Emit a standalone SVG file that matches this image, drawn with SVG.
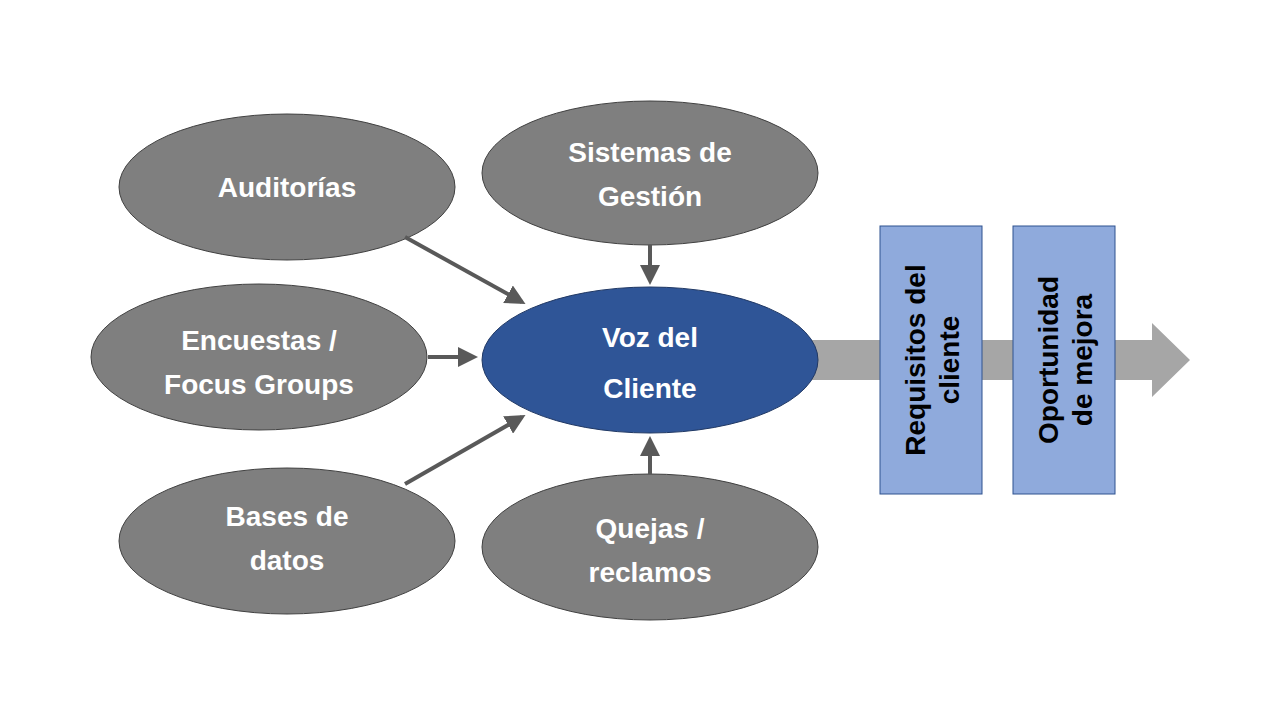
<svg xmlns="http://www.w3.org/2000/svg" width="1280" height="720" viewBox="0 0 1280 720">
<style>
.src{fill:#7f7f7f;stroke:#404040;stroke-width:1}
.t{font-family:"Liberation Sans",Arial,sans-serif;font-weight:bold;fill:#fff;font-size:28px;text-anchor:middle}
.vt{font-family:"Liberation Sans",Arial,sans-serif;font-weight:bold;fill:#000;font-size:28px;text-anchor:middle}
.box{fill:#8faadc;stroke:#2f528f;stroke-width:1}
.c{stroke:#595959;stroke-width:4;fill:none;marker-end:url(#ah)}
</style>
<defs>
<marker id="ah" markerWidth="5" markerHeight="5" refX="4" refY="2.5" orient="auto" markerUnits="strokeWidth"><path d="M0,0L5,2.5L0,5z" fill="#595959"/></marker>
</defs>
<rect width="1280" height="720" fill="#fff"/>
<g id="bigarrow"><path d="M800,340H1152V323L1190,360L1152,397V380H800z" fill="#a6a6a6"/></g>
<g id="auditorias"><ellipse class="src" cx="287" cy="187" rx="168" ry="73"/><text class="t" x="287" y="197">Auditorías</text></g>
<g id="sistemas"><ellipse class="src" cx="650" cy="173" rx="168" ry="72"/><text class="t" x="650" y="162">Sistemas de</text><text class="t" x="650" y="206">Gestión</text></g>
<g id="encuestas"><ellipse class="src" cx="259" cy="357" rx="168" ry="73"/><text class="t" x="259" y="350">Encuestas /</text><text class="t" x="259" y="394">Focus Groups</text></g>
<g id="bases"><ellipse class="src" cx="287" cy="541" rx="168" ry="73"/><text class="t" x="287" y="526">Bases de</text><text class="t" x="287" y="570">datos</text></g>
<g id="quejas"><ellipse class="src" cx="650" cy="547" rx="168" ry="73"/><text class="t" x="650" y="538">Quejas /</text><text class="t" x="650" y="582">reclamos</text></g>
<g id="voz"><ellipse cx="650" cy="360" rx="168" ry="73" fill="#2f5597" stroke="#203864" stroke-width="1"/><text class="t" x="650" y="347" font-size="34">Voz del</text><text class="t" x="650" y="398" font-size="34">Cliente</text></g>
<g id="requisitos"><rect class="box" x="880" y="226" width="102" height="268"/><text class="vt" transform="translate(931,360) rotate(-90)"><tspan x="0" y="-6">Requisitos del</tspan><tspan x="0" y="28">cliente</tspan></text></g>
<g id="oportunidad"><rect class="box" x="1013" y="226" width="102" height="268"/><text class="vt" transform="translate(1064,360) rotate(-90)"><tspan x="0" y="-6">Oportunidad</tspan><tspan x="0" y="28">de mejora</tspan></text></g>
<g id="connectors">
<line class="c" x1="405" y1="237" x2="522" y2="302"/>
<line class="c" x1="650" y1="245" x2="650" y2="281"/>
<line class="c" x1="428" y1="357" x2="474" y2="357"/>
<line class="c" x1="405" y1="484" x2="522" y2="417"/>
<line class="c" x1="650" y1="474" x2="650" y2="440"/>
</g>
</svg>
